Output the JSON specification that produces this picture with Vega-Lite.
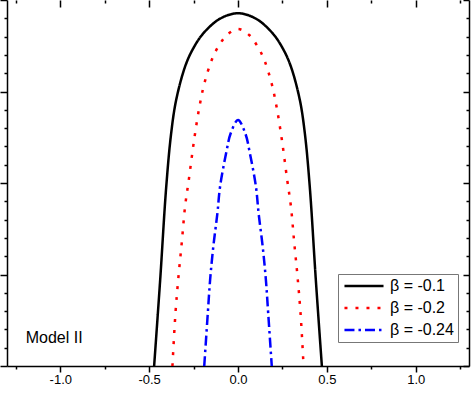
{
  "$schema": "https://vega.github.io/schema/vega-lite/v6.json",
  "width": 462,
  "height": 366,
  "autosize": {"type": "none"},
  "padding": {"left": 7, "top": 0, "right": 2, "bottom": 28},
  "background": "white",
  "config": {
    "view": {"stroke": null},
    "font": "Liberation Sans",
    "axis": {"grid": false, "domainColor": "black", "domainWidth": 1.5, "tickColor": "black", "tickWidth": 1.5, "labelFont": "Liberation Sans", "labelColor": "black", "title": null},
    "legend": {
      "orient": "none",
      "legendX": 331,
      "legendY": 274,
      "symbolType": "M-5,0H5",
      "symbolSize": 61,
      "symbolStrokeWidth": 2.5,
      "symbolOffset": 14,
      "labelFont": "Liberation Sans",
      "labelFontSize": 16,
      "labelColor": "black",
      "labelOffset": 18,
      "rowPadding": 6,
      "padding": 4,
      "strokeColor": "#777777",
      "fillColor": "white"
    }
  },
  "datasets": {
    "curves": [
      {"x": -0.472, "y": 0, "series": "β = -0.1"},
      {"x": -0.438, "y": 0.94, "series": "β = -0.1"},
      {"x": -0.404, "y": 1.956, "series": "β = -0.1"},
      {"x": -0.376, "y": 2.546, "series": "β = -0.1"},
      {"x": -0.348, "y": 2.907, "series": "β = -0.1"},
      {"x": -0.298, "y": 3.271, "series": "β = -0.1"},
      {"x": -0.255, "y": 3.46, "series": "β = -0.1"},
      {"x": -0.195, "y": 3.636, "series": "β = -0.1"},
      {"x": -0.1, "y": 3.797, "series": "β = -0.1"},
      {"x": 0, "y": 3.855, "series": "β = -0.1"},
      {"x": 0.1, "y": 3.797, "series": "β = -0.1"},
      {"x": 0.195, "y": 3.636, "series": "β = -0.1"},
      {"x": 0.255, "y": 3.46, "series": "β = -0.1"},
      {"x": 0.298, "y": 3.271, "series": "β = -0.1"},
      {"x": 0.348, "y": 2.907, "series": "β = -0.1"},
      {"x": 0.376, "y": 2.546, "series": "β = -0.1"},
      {"x": 0.404, "y": 1.956, "series": "β = -0.1"},
      {"x": 0.438, "y": 0.94, "series": "β = -0.1"},
      {"x": 0.472, "y": 0, "series": "β = -0.1"},

      {"x": -0.369, "y": 0, "series": "β = -0.2"},
      {"x": -0.352, "y": 0.576, "series": "β = -0.2"},
      {"x": -0.335, "y": 0.976, "series": "β = -0.2"},
      {"x": -0.316, "y": 1.358, "series": "β = -0.2"},
      {"x": -0.298, "y": 1.741, "series": "β = -0.2"},
      {"x": -0.277, "y": 2.033, "series": "β = -0.2"},
      {"x": -0.247, "y": 2.47, "series": "β = -0.2"},
      {"x": -0.217, "y": 2.834, "series": "β = -0.2"},
      {"x": -0.189, "y": 3.09, "series": "β = -0.2"},
      {"x": -0.148, "y": 3.344, "series": "β = -0.2"},
      {"x": -0.111, "y": 3.49, "series": "β = -0.2"},
      {"x": -0.063, "y": 3.617, "series": "β = -0.2"},
      {"x": 0, "y": 3.683, "series": "β = -0.2"},
      {"x": 0.063, "y": 3.617, "series": "β = -0.2"},
      {"x": 0.111, "y": 3.49, "series": "β = -0.2"},
      {"x": 0.148, "y": 3.344, "series": "β = -0.2"},
      {"x": 0.189, "y": 3.09, "series": "β = -0.2"},
      {"x": 0.217, "y": 2.834, "series": "β = -0.2"},
      {"x": 0.247, "y": 2.47, "series": "β = -0.2"},
      {"x": 0.277, "y": 2.033, "series": "β = -0.2"},
      {"x": 0.298, "y": 1.741, "series": "β = -0.2"},
      {"x": 0.316, "y": 1.358, "series": "β = -0.2"},
      {"x": 0.335, "y": 0.976, "series": "β = -0.2"},
      {"x": 0.352, "y": 0.576, "series": "β = -0.2"},
      {"x": 0.369, "y": 0, "series": "β = -0.2"},

      {"x": -0.19, "y": 0, "series": "β = -0.24"},
      {"x": -0.17, "y": 0.575, "series": "β = -0.24"},
      {"x": -0.157, "y": 0.94, "series": "β = -0.24"},
      {"x": -0.139, "y": 1.304, "series": "β = -0.24"},
      {"x": -0.116, "y": 1.668, "series": "β = -0.24"},
      {"x": -0.101, "y": 1.959, "series": "β = -0.24"},
      {"x": -0.067, "y": 2.324, "series": "β = -0.24"},
      {"x": -0.041, "y": 2.543, "series": "β = -0.24"},
      {"x": 0, "y": 2.689, "series": "β = -0.24"},
      {"x": 0.041, "y": 2.543, "series": "β = -0.24"},
      {"x": 0.067, "y": 2.324, "series": "β = -0.24"},
      {"x": 0.101, "y": 1.959, "series": "β = -0.24"},
      {"x": 0.116, "y": 1.668, "series": "β = -0.24"},
      {"x": 0.139, "y": 1.304, "series": "β = -0.24"},
      {"x": 0.157, "y": 0.94, "series": "β = -0.24"},
      {"x": 0.17, "y": 0.575, "series": "β = -0.24"},
      {"x": 0.19, "y": 0, "series": "β = -0.24"}
    ],
    "notes": [
      {"x": -1.195, "y": 0.25, "label": "Model II"}
    ]
  },
  "layer": [
    {
      "data": {"name": "curves"},
      "mark": {"type": "line", "strokeWidth": 2.5, "interpolate": "catmull-rom", "clip": true},
      "encoding": {
        "x": {
          "field": "x", "type": "quantitative",
          "scale": {"domain": [-1.3, 1.3], "nice": false, "zero": false},
          "axis": {
            "orient": "bottom",
            "values": [-1.25, -1, -0.75, -0.5, -0.25, 0, 0.25, 0.5, 0.75, 1, 1.25],
            "labelExpr": "abs(datum.value*2 - round(datum.value*2)) < 0.001 ? replace(format(datum.value, '.1f'), '\u2212', '-') : ''",
            "labelFontSize": 13,
            "labelPadding": 1,
            "labelFlush": false,
            "labelOverlap": false,
            "tickSize": {"condition": {"test": "abs(datum.value*2 - round(datum.value*2)) < 0.001", "value": 6}, "value": 3}
          }
        },
        "y": {
          "field": "y", "type": "quantitative",
          "scale": {"domain": [0, 4], "nice": false, "zero": false},
          "axis": {
            "orient": "left",
            "values": [0, 0.2, 0.4, 0.6, 0.8, 1, 1.2, 1.4, 1.6, 1.8, 2, 2.2, 2.4, 2.6, 2.8, 3, 3.2, 3.4, 3.6, 3.8, 4],
            "labels": false,
            "tickSize": {"condition": {"test": "abs(datum.value - round(datum.value)) < 0.001", "value": 7}, "value": 3}
          }
        },
        "color": {
          "field": "series", "type": "nominal",
          "scale": {"domain": ["β = -0.1", "β = -0.2", "β = -0.24"], "range": ["#000000", "#ff0000", "#0000ff"]},
          "legend": {"title": null}
        },
        "strokeDash": {
          "field": "series", "type": "nominal",
          "scale": {"domain": ["β = -0.1", "β = -0.2", "β = -0.24"], "range": [[1, 0], [3, 8], [10, 4, 2.5, 4]]},
          "legend": {"title": null}
        }
      }
    },
    {
      "data": {"name": "notes"},
      "mark": {"type": "text", "align": "left", "baseline": "alphabetic", "fontSize": 16, "font": "Liberation Sans", "color": "black"},
      "encoding": {
        "x": {
          "field": "x", "type": "quantitative",
          "axis": {
            "orient": "top",
            "values": [-1.25, -1, -0.75, -0.5, -0.25, 0, 0.25, 0.5, 0.75, 1, 1.25],
            "labels": false,
            "domain": false,
            "tickSize": {"condition": {"test": "abs(datum.value*2 - round(datum.value*2)) < 0.001", "value": -7}, "value": -3}
          }
        },
        "y": {
          "field": "y", "type": "quantitative",
          "axis": {
            "orient": "right",
            "values": [0, 0.2, 0.4, 0.6, 0.8, 1, 1.2, 1.4, 1.6, 1.8, 2, 2.2, 2.4, 2.6, 2.8, 3, 3.2, 3.4, 3.6, 3.8, 4],
            "labels": false,
            "tickSize": {"condition": {"test": "abs(datum.value - round(datum.value)) < 0.001", "value": -6}, "value": -3}
          }
        },
        "text": {"field": "label"}
      }
    }
  ],
  "resolve": {"axis": {"x": "independent", "y": "independent"}}
}
